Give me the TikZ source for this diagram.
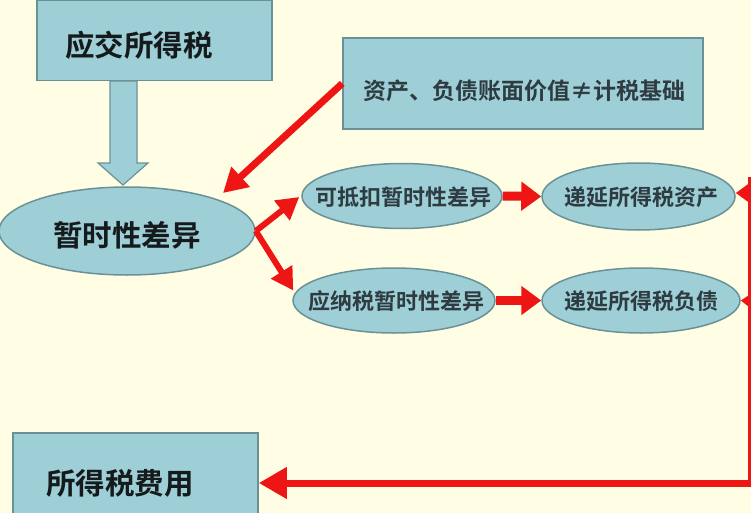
\documentclass[tikz,border=0pt]{standalone}
\usepackage{fontspec}
\newfontfamily\cjkb{Noto Sans CJK SC Bold}
\usetikzlibrary{shapes.geometric,arrows.meta,calc}
\definecolor{bgc}{HTML}{FFFDE4}
\definecolor{fillc}{HTML}{9ECFD6}
\definecolor{bordc}{HTML}{6A9296}
\definecolor{redc}{HTML}{EE1515}
\definecolor{txtbig}{HTML}{151A1C}
\definecolor{txtsm}{HTML}{2E3C42}
\tikzset{
  boxn/.style={rectangle, draw=bordc, line width=1.5pt, fill=fillc, inner sep=0pt},
  elln/.style={ellipse, draw=bordc, line width=1.5pt, fill=fillc, inner sep=0pt},
  bigtxt/.style={font=\cjkb\fontsize{29.5pt}{30pt}\selectfont, text=txtbig, inner sep=0pt},
  smtxt/.style={font=\cjkb\fontsize{22pt}{23pt}\selectfont, text=txtsm, inner sep=0pt},
  redarr/.style={draw=redc, line width=7pt, -{Triangle[length=24pt,width=26pt]}},
  redthin/.style={draw=redc, line width=3pt},
  redside/.style={draw=redc, line width=4pt, -{Triangle[length=16pt,width=22pt]}},
}
\begin{document}
\begin{tikzpicture}[x=1pt,y=-1pt]
\fill[bgc] (0,0) rectangle (751,513);
\useasboundingbox (0,0) rectangle (751,513);
% boxes
\node[boxn, minimum width=235pt, minimum height=80pt] (b1) at (154.5,40.5) {};
\node[bigtxt] (b1t) at (139,45) {应交所得税};
\node[boxn, minimum width=360pt, minimum height=91pt] (b2) at (523,83.5) {};
\node[smtxt, font=\cjkb\fontsize{23pt}{24pt}\selectfont] (b2t) at (524,91) {资产、负债账面价值≠计税基础};
\node[boxn, minimum width=245pt, minimum height=100pt] (b3) at (135.5,483) {};
\node[bigtxt] (b3t) at (120,483) {所得税费用};
% ellipses
\node[elln, minimum width=256pt, minimum height=88pt] (e0) at (127,231) {};
\node[bigtxt] (e0t) at (127,235) {暂时性差异};
\node[elln, minimum width=200pt, minimum height=65pt] (e1) at (402,196) {};
\node[smtxt] (e1t) at (403,197) {可抵扣暂时性差异};
\node[elln, minimum width=193pt, minimum height=67pt] (e2) at (638.5,196.5) {};
\node[smtxt] (e2t) at (641,197) {递延所得税资产};
\node[elln, minimum width=202pt, minimum height=65pt] (e3) at (394,300.5) {};
\node[smtxt] (e3t) at (396,301) {应纳税暂时性差异};
\node[elln, minimum width=198pt, minimum height=65pt] (e4) at (641,300.5) {};
\node[smtxt] (e4t) at (641,301) {递延所得税负债};
% block arrow
\filldraw[fill=fillc, draw=bordc, line width=1.2pt]
  (110,81) -- (137,81) -- (137,163) -- (148,163) -- (123,185) -- (98,163) -- (110,163) -- cycle;
% red arrows
\draw[redarr] (b2.west) -- ($(e0.center)+(96,-38)$);
\draw[redarr, line width=6pt, -{Triangle[length=22pt,width=24pt]}] (e0.east) -- ($(e1.west)+(-2,1)$);
\draw[redarr, line width=6pt, -{Triangle[length=22pt,width=24pt]}] (e0.east) -- ($(e3.west)+(1,-10)$);
\draw[redarr, line width=9pt, -{Triangle[length=20pt,width=28pt]}] (e1.east) -- (e2.west);
\draw[redarr, line width=9pt, -{Triangle[length=20pt,width=28pt]}] (e3.east) -- (e4.west);
\coordinate (rt) at (749,177);
\coordinate (r1) at (753,193);
\coordinate (r2) at (753,301);
\coordinate (r3) at (749,483);
\draw[redthin] (rt) -- (r3);
\draw[redside] (r1) -- (r1 -| e2.east);
\draw[redside] (r2) -- (e4.east);
\draw[redarr, -{Triangle[length=28pt,width=30pt]}] ([xshift=1.5pt]r3) -- (b3.east);
\end{tikzpicture}
\end{document}
